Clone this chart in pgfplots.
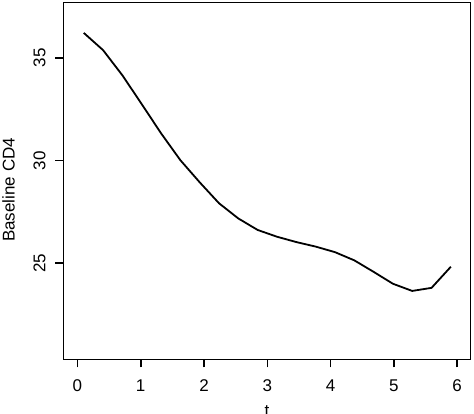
\documentclass[border=0pt]{standalone}
\usepackage{fontspec}
\setmainfont{Liberation Sans}
\usepackage{pgfplots}
\pgfplotsset{compat=1.18}

\newcommand{\lblfont}{\fontsize{17}{20}\selectfont}

\begin{document}
\begin{tikzpicture}
\begin{axis}[
    scale only axis,
    width=407pt, height=357pt,
    xmin=-0.22, xmax=6.21,
    ymin=20.31, ymax=37.70,
    xtick={0,1,2,3,4,5,6},
    ytick={25,30,35},
    xtick pos=bottom, ytick pos=left,
    tick align=outside,
    major tick length=8pt,
    axis line style={line width=1.9pt},
    every tick/.style={black, line width=1.6pt},
    /pgf/number format/assume math mode=true,
    tick label style={font=\lblfont, inner sep=0pt},
    xticklabel style={anchor=center, yshift=-18pt},
    yticklabel style={rotate=90, anchor=center, yshift=16pt},
    xlabel={t},
    ylabel={Baseline CD4},
    every axis x label/.style={at={(axis description cs:0.5,0)}, anchor=north,
        yshift=-45.5pt, font=\lblfont, inner sep=0pt},
    every axis y label/.style={at={(axis description cs:-0.135,0.475)}, rotate=90,
        anchor=center, font=\lblfont, inner sep=0pt},
    clip=false,
]
\addplot[black, line width=1.8pt, mark=none] coordinates {
    (0.100,36.22) (0.405,35.38) (0.711,34.15) (1.016,32.75) (1.321,31.33)
    (1.626,30.02) (1.932,28.94) (2.237,27.92) (2.542,27.18) (2.847,26.62)
    (3.153,26.29) (3.458,26.03) (3.763,25.81) (4.068,25.54) (4.374,25.14)
    (4.679,24.58) (4.984,24.00) (5.289,23.65) (5.595,23.80) (5.900,24.83)
};
\end{axis}
\pgfresetboundingbox
\path (-63.5pt,-54.5pt) rectangle (410.5pt,359.5pt);
\end{tikzpicture}
\end{document}
